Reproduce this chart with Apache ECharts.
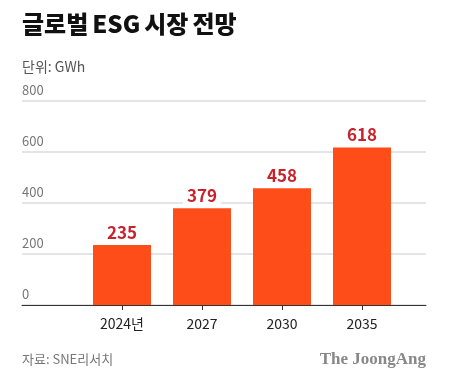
<!DOCTYPE html>
<html><head><meta charset="utf-8">
<script src="https://cdn.jsdelivr.net/npm/echarts@6/dist/echarts.min.js"></script>
<style>html,body{margin:0;padding:0;background:#fff}#c{width:451px;height:382px}</style>
</head><body><div id="c"></div>
<script>
const categories = ['2024년', '2027', '2030', '2035'];
const values = [235, 379, 458, 618];
const yTicks = [0, 200, 400, 600, 800];

const chart = echarts.init(document.getElementById('c'), null, {renderer: 'canvas'});
const font = '"Noto Sans CJK KR", "Noto Sans", sans-serif';
chart.setOption({
  animation: false,
  backgroundColor: '#fff',
  title: [
    {text: '글로벌\u2006ESG\u2006시장\u2006전망', left: 17, top: 7,
     textStyle: {fontFamily: font, fontSize: 24, fontWeight: 900, color: '#111'}},
    {text: '단위: GWh', left: 17, top: 55,
     textStyle: {fontFamily: font, fontSize: 14, fontWeight: 'normal', color: '#555'}},
    {text: '자료: SNE리서치', left: 17, top: 348,
     textStyle: {fontFamily: font, fontSize: 13, fontWeight: 'normal', color: '#777'}},
    {text: 'The JoongAng', right: 20, top: 346,
     textStyle: {fontFamily: '"Liberation Serif", "DejaVu Serif", serif', fontSize: 17, fontWeight: 'bold', color: '#888'}}
  ],
  grid: [
    {left: 82, right: 49, top: 101, bottom: 77},
    {left: 22, right: 25, top: 101, bottom: 77}
  ],
  xAxis: [
    {type: 'category', gridIndex: 0, data: categories,
     axisLine: {show: false},
     axisTick: {show: true, alignWithLabel: true, length: 5, lineStyle: {color: '#333'}},
     axisLabel: {fontFamily: font, fontSize: 14, color: '#222', margin: 12}},
    {type: 'category', gridIndex: 1, data: [''],
     axisLine: {show: true, lineStyle: {color: '#333', width: 1}},
     axisTick: {show: false}, axisLabel: {show: false}}
  ],
  yAxis: [
    {type: 'value', gridIndex: 0, min: yTicks[0], max: yTicks[yTicks.length - 1], interval: 200,
     axisLine: {show: false}, axisTick: {show: false}, axisLabel: {show: false}, splitLine: {show: false}},
    {type: 'value', gridIndex: 1, min: yTicks[0], max: yTicks[yTicks.length - 1], interval: 200,
     axisLine: {show: false}, axisTick: {show: false},
     axisLabel: {inside: true, margin: 0, verticalAlign: 'bottom', padding: [0, 0, 4, 0],
                 fontFamily: font, fontSize: 13, color: '#777'},
     splitLine: {show: true, lineStyle: {color: '#ddd', width: 1.5}}}
  ],
  series: [{
    type: 'bar', xAxisIndex: 0, yAxisIndex: 0, data: values, barWidth: 58,
    itemStyle: {color: '#ff4d1a'},
    label: {show: true, position: 'top', distance: 4, fontFamily: font, fontSize: 17,
            fontWeight: 'bold', color: '#c8232c', backgroundColor: '#fff', padding: [0, 4, 0, 4]},
    z: 3
  }]
});
</script></body></html>
